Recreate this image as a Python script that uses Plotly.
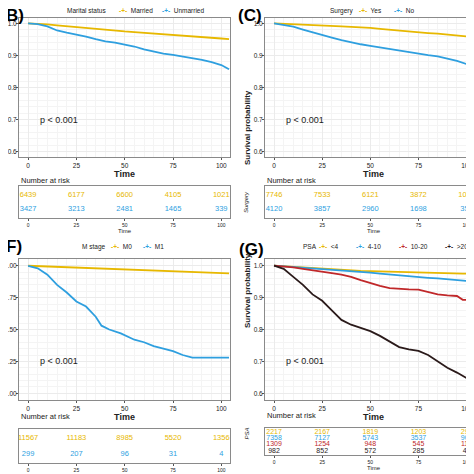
import plotly.graph_objects as go

YEL, BLU, RED, BLK = "#E7B800", "#2E9FDF", "#C0282A", "#2A1A1A"

# ---- curve data (time, survival) ----
b_t = [0, 5, 10, 15, 20, 25, 30, 35, 40, 45, 50, 55, 60, 65, 70, 75, 80, 85, 90, 95, 100, 104]
b_married = [1.0, 0.999, 0.997, 0.994, 0.991, 0.988, 0.985, 0.982, 0.980, 0.977, 0.975, 0.973, 0.971, 0.968, 0.966, 0.964, 0.962, 0.960, 0.958, 0.955, 0.953, 0.951]
b_unmarried = [1.0, 0.998, 0.991, 0.978, 0.971, 0.966, 0.959, 0.951, 0.944, 0.940, 0.935, 0.928, 0.919, 0.912, 0.906, 0.902, 0.897, 0.891, 0.886, 0.879, 0.870, 0.857]

c_t = [0, 5, 10, 15, 20, 25, 30, 35, 40, 45, 50, 55, 60, 65, 70, 75, 80, 85, 90, 95, 100, 103]
c_yes = [1.0, 0.999, 0.998, 0.996, 0.995, 0.993, 0.992, 0.991, 0.989, 0.988, 0.986, 0.983, 0.980, 0.977, 0.975, 0.972, 0.970, 0.968, 0.965, 0.963, 0.960, 0.958]
c_no = [1.0, 0.996, 0.990, 0.981, 0.972, 0.963, 0.956, 0.948, 0.941, 0.935, 0.930, 0.925, 0.920, 0.914, 0.909, 0.905, 0.901, 0.897, 0.891, 0.883, 0.873, 0.866]

f_t = [0, 5, 10, 15, 20, 25, 30, 35, 38, 42, 48, 55, 60, 65, 70, 75, 80, 85, 90, 95, 100, 104]
f_m0 = [1.0, 0.997, 0.994, 0.991, 0.988, 0.986, 0.983, 0.980, 0.979, 0.977, 0.974, 0.970, 0.968, 0.965, 0.962, 0.959, 0.956, 0.953, 0.950, 0.947, 0.944, 0.941]
f_m1 = [1.0, 0.98, 0.93, 0.85, 0.79, 0.72, 0.68, 0.60, 0.53, 0.50, 0.47, 0.42, 0.40, 0.37, 0.35, 0.33, 0.30, 0.28, 0.28, 0.28, 0.28, 0.28]

g_t = [0, 5, 10, 15, 20, 25, 30, 35, 40, 45, 50, 55, 60, 65, 70, 75, 80, 85, 90, 95, 98, 103]
g_lt4 = [1.0, 0.998, 0.996, 0.994, 0.992, 0.990, 0.989, 0.987, 0.986, 0.984, 0.983, 0.982, 0.981, 0.980, 0.979, 0.978, 0.977, 0.977, 0.976, 0.976, 0.975, 0.975]
g_4_10 = [1.0, 0.998, 0.996, 0.994, 0.992, 0.990, 0.988, 0.985, 0.983, 0.980, 0.978, 0.975, 0.972, 0.970, 0.968, 0.965, 0.962, 0.960, 0.957, 0.955, 0.953, 0.951]
g_10_20 = [1.0, 0.998, 0.995, 0.990, 0.986, 0.983, 0.977, 0.972, 0.965, 0.955, 0.945, 0.937, 0.930, 0.927, 0.926, 0.925, 0.918, 0.910, 0.907, 0.905, 0.893, 0.893]
g_gt20 = [1.0, 0.99, 0.965, 0.94, 0.91, 0.89, 0.86, 0.83, 0.815, 0.805, 0.795, 0.78, 0.762, 0.745, 0.738, 0.733, 0.72, 0.70, 0.68, 0.665, 0.655, 0.637]

# ---- number at risk ----
risk_times = [0, 25, 50, 75, 100]
b_risk = {"Married": [6439, 6177, 6600, 4105, 1021], "Unmarried": [3427, 3213, 2481, 1465, 339]}
c_risk = {"Yes": [7746, 7533, 6121, 3872, 1001], "No": [4120, 3857, 2960, 1698, 355]}
f_risk = {"M0": [11567, 11183, 8985, 5520, 1356], "M1": [299, 207, 96, 31, 4]}
g_risk = {"<4": [2217, 2167, 1819, 1203, 297], "4-10": [7358, 7127, 5743, 3537, 905],
          "10-20": [1309, 1254, 948, 545, 118], ">20": [982, 852, 572, 285, 44]}

W = H = 474
OFFX, OFFY = 8, 8  # page offset of the plot div
def px(x): return (x - OFFX) / W
def py(y): return 1 - (y - OFFY) / H

fig = go.Figure()
grid = dict(showgrid=True, gridcolor="#EBEBEB", gridwidth=1, zeroline=False, automargin=False,
            showline=True, linecolor="#8A8A8A", mirror=True, ticks="outside",
            ticklen=2, tickcolor="#555", minor=dict(showgrid=True, gridcolor="#F4F4F4"))

panels = [
    dict(curves=[("Married", b_t, b_married, YEL), ("Unmarried", b_t, b_unmarried, BLU)], risk=b_risk,
         box=(19, 230, 18, 157), xr=[-4.7, 104.5], yr=[0.583, 1.017], yt=[0.6, 0.7, 0.8, 0.9, 1.0], yfmt=".1f",
         tab=(186, 218), title="Marital status", leg=(65, 5), gap=20, py=0.7, letter=("B)", 26, 15), ylab=None, strat=None),
    dict(curves=[("Yes", c_t, c_yes, YEL), ("No", c_t, c_no, BLU)], risk=c_risk,
         box=(265, 482, 18, 157), xr=[-4.7, 108], yr=[0.583, 1.017], yt=[0.6, 0.7, 0.8, 0.9, 1.0], yfmt=".1f",
         tab=(186, 218), title="Surgery", leg=(328, 5), gap=25, py=0.7, letter=("(C)", 264, 15), ylab=247, strat="Surgery"),
    dict(curves=[("M0", f_t, f_m0, YEL), ("M1", f_t, f_m1, BLU)], risk=f_risk,
         box=(19, 230, 259, 400), xr=[-4.7, 104.5], yr=[-0.053, 1.053], yt=[0, 0.25, 0.5, 0.75, 1.0], yfmt=".2f",
         tab=(429, 463), title="M stage", leg=(80, 247), gap=25, py=0.25, letter=("F)", 24, 247), ylab=None, strat=None),
    dict(curves=[("<4", g_t, g_lt4, YEL), ("4-10", g_t, g_4_10, BLU), ("10-20", g_t, g_10_20, RED), (">20", g_t, g_gt20, BLK)],
         risk=g_risk, box=(265, 482, 259, 400), xr=[-4.7, 108], yr=[0.579, 1.021], yt=[0.6, 0.7, 0.8, 0.9, 1.0], yfmt=".1f",
         tab=(428, 455), title="PSA", leg=(301, 247), gap=30, py=0.7, letter=("(G)", 266, 249), ylab=247, strat="PSA"),
]

layout = dict(width=W, height=H, margin=dict(l=0, r=0, t=0, b=0), plot_bgcolor="white", showlegend=False,
              paper_bgcolor="white", font=dict(family="Liberation Sans, Arial", color="#222"), annotations=[])
ann = layout["annotations"]

for i, p in enumerate(panels):
    a = 2 * i + 1
    b = 2 * i + 2
    x0, x1, y0, y1 = p["box"]
    for name, t, s, col in p["curves"]:
        fig.add_trace(go.Scatter(x=t, y=s, mode="lines", line=dict(color=col, width=1.8),
                                 name=name, xaxis=f"x{a}", yaxis=f"y{a}"))
    # manual legend
    lx, ly = p["leg"]
    ann.append(dict(x=px(lx), y=py(ly), xref="paper", yref="paper", text=p["title"], showarrow=False,
                    xanchor="left", font=dict(size=6.5)))
    cx = lx + len(p["title"]) * 3.3 + 6
    for name, t, s, col in p["curves"]:
        ann.append(dict(x=px(cx), y=py(ly), xref="paper", yref="paper", showarrow=False, xanchor="left",
                        text=f"<span style='color:{col}'><b>-+-</b></span>  {name}", font=dict(size=6.5)))
        cx += p["gap"] + len(name) * 3.3
    layout[f"xaxis{a}"] = dict(grid, domain=[px(x0), min(px(x1), 1)], range=p["xr"], anchor=f"y{a}",
                               tickvals=risk_times, tickfont=dict(size=6.5),
                               title=dict(text="<b>Time</b>", font=dict(size=9), standoff=2))
    layout[f"yaxis{a}"] = dict(grid, domain=[py(y1), py(y0)], range=p["yr"], anchor=f"x{a}",
                               tickvals=p["yt"], tickformat=p["yfmt"], tickfont=dict(size=6.5),
                               ticklabelstandoff=-2)
    ann.append(dict(x=5, y=p["py"], xref=f"x{a}", yref=f"y{a}", text="p < 0.001", showarrow=False,
                    xanchor="left", font=dict(size=9)))
    ann.append(dict(x=px(p["letter"][1]), y=py(p["letter"][2]), xref="paper", yref="paper", text=f"<b>{p['letter'][0]}</b>",
                    showarrow=False, xanchor="right", yanchor="middle", font=dict(size=17, color="black")))
    if p["ylab"]:
        ann.append(dict(x=px(p["ylab"]), y=py((y0 + y1) / 2), xref="paper", yref="paper", text="<b>Survival probability</b>",
                        textangle=-90, showarrow=False, font=dict(size=8)))
    # risk table
    t0, t1 = p["tab"]
    n = len(p["risk"])
    layout[f"xaxis{b}"] = dict(grid, domain=[px(x0), min(px(x1), 1)], range=p["xr"], anchor=f"y{b}", tickvals=risk_times,
                               tickfont=dict(size=5), showgrid=False, minor=dict(showgrid=False),
                               title=dict(text="Time", font=dict(size=6), standoff=0))
    layout[f"yaxis{b}"] = dict(grid, domain=[py(t1), py(t0)], range=[0.4, n + 0.6], anchor=f"x{b}",
                               showticklabels=False, showgrid=False, minor=dict(showgrid=False), ticks="")
    cols = [c[3] for c in p["curves"]]
    for k, (lab, vals) in enumerate(p["risk"].items()):
        row = n - k
        fig.add_trace(go.Scatter(x=risk_times, y=[row] * 5, mode="text", text=[str(v) for v in vals],
                                 textfont=dict(size=7.5 if n == 2 else 7, color=cols[k]), showlegend=False,
                                 xaxis=f"x{b}", yaxis=f"y{b}"))
        ann.append(dict(x=-5, y=row, xref=f"x{b}", yref=f"y{b}", text=lab, showarrow=False, xanchor="right",
                        font=dict(size=4, color=cols[k])))
    ann.append(dict(x=px(x0), y=py(t0 - 6), xref="paper", yref="paper", text="Number at risk", showarrow=False,
                    xanchor="left", font=dict(size=7.5)))
    if p["strat"]:
        ann.append(dict(x=px(x0 - 19), y=py((t0 + t1) / 2), xref="paper", yref="paper", text=f"<i>{p['strat']}</i>",
                        textangle=-90, showarrow=False, font=dict(size=6)))

fig.update_layout(**layout)
fig.write_html("out.html")
